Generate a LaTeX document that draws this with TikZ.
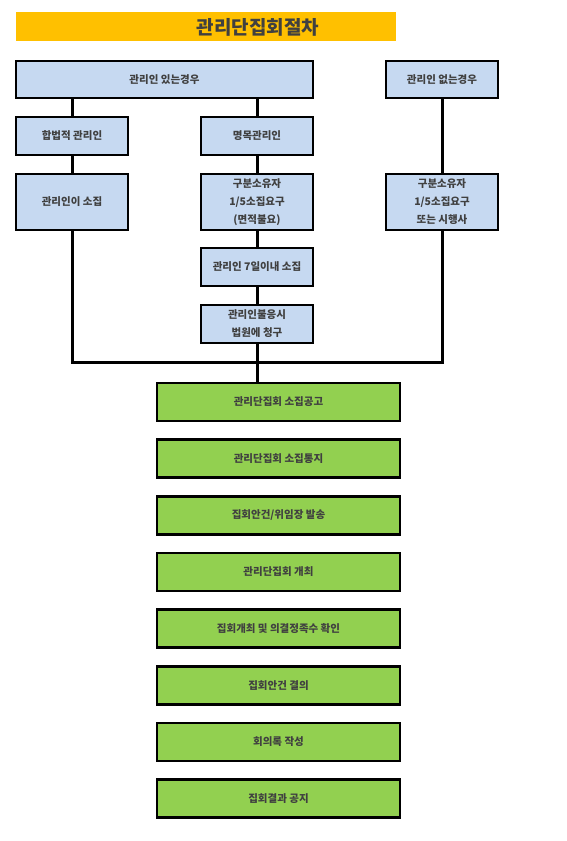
\documentclass[tikz,border=0pt]{standalone}
\usepackage{fontspec}
\setmainfont{Noto Sans CJK KR}
\usepackage{tikz}
\usetikzlibrary{positioning,calc}
\definecolor{titleorange}{HTML}{FFC000}
\definecolor{caseblue}{HTML}{C6D9F1}
\definecolor{stepgreen}{HTML}{92D050}
\tikzset{
  casebox/.style={draw=black,line width=2.5pt,fill=caseblue,inner sep=0pt,align=center,
    font=\fontsize{10.5}{18}\selectfont\bfseries,text=black!75},
  stepbox/.style={draw=black,line width=2.5pt,fill=stepgreen,inner sep=0pt,align=center,
    minimum width=243pt,minimum height=38pt,font=\fontsize{10.5}{18}\selectfont\bfseries,text=black!75},
  link/.style={line width=3pt}
}
\begin{document}
\begin{tikzpicture}[x=1pt,y=1pt,yscale=-1,xscale=1]
            \useasboundingbox (0,0) rectangle (566,841);
            % Title bar
            \fill[titleorange] (16,12) rectangle (396,41);
            \draw (258,27) node [inner sep=0pt] [font=\fontsize{19}{21}\selectfont\bfseries,text=black!75] (title) {관리단집회절차};
            % Case boxes
            \draw (164.5,79.5) node [casebox,minimum width=297pt,minimum height=37pt] (have) {관리인 있는경우};
            \draw (442,79.5) node [casebox,minimum width=112pt,minimum height=37pt] (nohave) {관리인 없는경우};
            \draw (72,136) node [casebox,minimum width=112pt,minimum height=38pt] (legal) {합법적 관리인};
            \draw (257,136) node [casebox,minimum width=112pt,minimum height=38pt] (nominal) {명목관리인};
            \draw (72,202) node [casebox,minimum width=112pt,minimum height=56pt] (mgrcall) {관리인이 소집};
            \draw (257,202) node [casebox,minimum width=112pt,minimum height=56pt] (ownerreq) {구분소유자\\1/5소집요구\\(면적불요)};
            \draw (442,202) node [casebox,minimum width=112pt,minimum height=56pt] (ownerright) {구분소유자\\1/5소집요구\\또는 시행사};
            \draw (257,267) node [casebox,minimum width=112pt,minimum height=38pt] (seven) {관리인 7일이내 소집};
            \draw (257,324) node [casebox,minimum width=112pt,minimum height=38pt] (court) {관리인불응시\\법원에 청구};
            \coordinate (join) at (257,362);
            % Steps
            \draw (278.5,402) node [stepbox] (notice) {관리단집회 소집공고};
            \draw (278.5,458.7) node [stepbox] (letter) {관리단집회 소집통지};
            \draw (278.5,515.3) node [stepbox] (proxy) {집회안건/위임장 발송};
            \draw (278.5,572) node [stepbox] (open) {관리단집회 개최};
            \draw (278.5,628.7) node [stepbox] (quorum) {집회개최 및 의결정족수 확인};
            \draw (278.5,685.3) node [stepbox] (vote) {집회안건 결의};
            \draw (278.5,742) node [stepbox] (minutes) {회의록 작성};
            \draw (278.5,798.7) node [stepbox] (result) {집회결과 공지};
            % Connectors
            \draw[link] (legal.north) -- (legal.north |- have.south);
            \draw[link] (nominal.north) -- (nominal.north |- have.south);
            \draw[link] (legal) -- (mgrcall);
            \draw[link] (nominal) -- (ownerreq);
            \draw[link] (ownerreq) -- (seven);
            \draw[link] (seven) -- (court);
            \draw[link] (nohave) -- (ownerright);
            \draw[link] (mgrcall.south) |- (join) -| (ownerright.south);
            \draw[link] (court.south) -- (court.south |- notice.north);
        \end{tikzpicture}
\end{document}
